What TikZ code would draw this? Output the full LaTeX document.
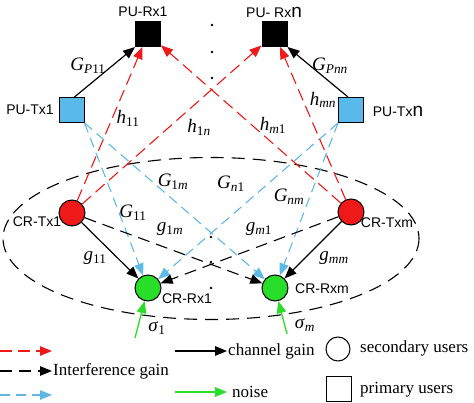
\documentclass[tikz,border=0pt]{standalone}
\usepackage{fontspec}
\setmainfont{Liberation Serif}
\newfontfamily\sansf{Liberation Sans}
\usetikzlibrary{arrows.meta}
\definecolor{myred}{RGB}{240,25,25}
\definecolor{myblue}{RGB}{95,185,230}
\definecolor{mygreen}{RGB}{40,222,40}
\definecolor{sqblue}{RGB}{90,185,235}
\newcommand{\mlab}[2]{\textit{#1}\textsubscript{#2}}
\begin{document}
\begin{tikzpicture}[x=1pt,y=-1pt,
 arrtip/.style={-{Triangle[length=12pt,width=9.5pt]}},
 pusq/.style={draw, line width=1pt, minimum size=25pt, inner sep=0},
 crc/.style={circle, draw, line width=1pt, minimum size=26pt, inner sep=0},
 nlab/.style={font=\sansf\fontsize{14}{14}\selectfont, inner sep=0},
 mlabel/.style={font=\fontsize{19}{19}\selectfont, inner sep=0},
 ltext/.style={font=\fontsize{17}{17}\selectfont, anchor=west, inner sep=0},
 reddash/.style={arrtip, myred, line width=1.1pt, dash pattern=on 12pt off 6pt},
 bluedash/.style={arrtip, myblue, line width=1.1pt, dash pattern=on 10pt off 6pt},
 blackdash/.style={arrtip, black, line width=1.1pt, dash pattern=on 12pt off 7pt},
 solidarr/.style={arrtip, black, line width=1.2pt},
 noisearr/.style={arrtip, mygreen, line width=1.3pt},
 dotmark/.style={fill=black},
]
\useasboundingbox (0,0) rectangle (474,403);

% ellipse
\draw[black, line width=1.1pt, dash pattern=on 13pt off 8pt] (211,238.5) ellipse [x radius=208, y radius=81];

% nodes
\node[pusq, fill=black] (prx1) at (148,34) {};
\node[pusq, fill=black] (prxn) at (274.5,34) {};
\node[pusq, fill=sqblue] (ptx1) at (71.5,110) {};
\node[pusq, fill=sqblue] (ptxn) at (351,110) {};
\node[crc, fill=myred] (ctx1) at (72,213) {};
\node[crc, fill=myred] (ctxm) at (351,212) {};
\node[crc, fill=mygreen] (crx1) at (148,288) {};
\node[crc, fill=mygreen] (crxm) at (275,288) {};

% node labels
\node[nlab] (lprx1) at (143,12) {PU-Rx1};
\node[nlab] (lprxn) at (274,12) {PU- Rx{\fontsize{19}{19}\selectfont n}};
\node[nlab] (lptx1) at (30,110) {PU-Tx1};
\node[nlab] (lptxn) at (398,111) {PU-Tx{\fontsize{19}{19}\selectfont n}};
\node[nlab] (lctx1) at (37,222) {CR-Tx1};
\node[nlab] (lctxm) at (387,223) {CR-Txm};
\node[nlab] (lcrx1) at (187,299) {CR-Rx1};
\node[nlab] (lcrxm) at (322,289) {CR-Rxm};

% dots
\fill[dotmark] (212,25) circle (1.3);
\fill[dotmark] (212,52) circle (1.3);
\fill[dotmark] (212,78) circle (1.3);
\fill[dotmark] (211,237) circle (1.3);
\fill[dotmark] (211,262) circle (1.3);
\fill[dotmark] (211,288) circle (1.3);

% blue interference
\draw[bluedash] (ptx1.south east) -- (crx1);
\draw[bluedash] (ptx1.south east) -- (crxm);
\draw[bluedash] (ptxn.south west) -- (crx1);
\draw[bluedash] (ptxn.south west) -- (crxm);

% red interference
\draw[reddash] (ctx1) -- (prx1);
\draw[reddash] (ctx1) -- (prxn);
\draw[reddash] (ctxm) -- (prx1);
\draw[reddash] (ctxm) -- (prxn);

% secondary links
\draw[blackdash] (ctx1) -- (crxm);
\draw[blackdash] (ctxm) -- (crx1);
\draw[solidarr] (ctx1) -- (crx1);
\draw[solidarr] (ctxm) -- (crxm);

% primary links
\draw[solidarr] ([xshift=3pt]ptx1.north) -- (prx1.south west);
\draw[solidarr] ([xshift=-3pt]ptxn.north) -- (prxn.south east);

% noise
\coordinate (n1) at (135,338);
\coordinate (nm) at (287,334);
\draw[noisearr] (n1) -- (crx1);
\draw[noisearr] (nm) -- (crxm);

% math labels
\node[mlabel] (lgp11) at (88,66) {\mlab{G}{\textit{P}11}};
\node[mlabel] (lgpnn) at (330,66) {\mlab{G}{\textit{Pnn}}};
\node[mlabel] (lh11) at (128,118) {\mlab{h}{11}};
\node[mlabel] (lh1n) at (199,127) {\mlab{h}{1\textit{n}}};
\node[mlabel] (lhm1) at (273,125) {\mlab{h}{\textit{m}1}};
\node[mlabel] (lhmn) at (323,100) {\mlab{h}{\textit{mn}}};
\node[mlabel] (lg1m) at (173,182) {\mlab{G}{1\textit{m}}};
\node[mlabel] (lgn1) at (231,184) {\mlab{G}{\textit{n}1}};
\node[mlabel] (lgnm) at (289,197) {\mlab{G}{\textit{nm}}};
\node[mlabel] (lg11) at (133,213) {\mlab{G}{11}};
\node[mlabel] (lsg1m) at (170,229) {\mlab{g}{1\textit{m}}};
\node[mlabel] (lsgm1) at (259,229) {\mlab{g}{\textit{m}1}};
\node[mlabel] (lsg11) at (95,258) {\mlab{g}{11}};
\node[mlabel] (lsgmm) at (334,258) {\mlab{g}{\textit{mm}}};
\node[mlabel] (ls1) at (157,328) {\mlab{σ}{1}};
\node[mlabel] (lsm) at (305,325) {\mlab{σ}{\textit{m}}};

% legend
\coordinate (a1) at (0,351); \coordinate (b1) at (52,351);
\coordinate (a2) at (0,371); \coordinate (b2) at (52,371);
\coordinate (a3) at (0,395); \coordinate (b3) at (52,395);
\coordinate (a4) at (175,351); \coordinate (b4) at (227,351);
\coordinate (a5) at (175,392); \coordinate (b5) at (227,392);
\draw[reddash] (a1) -- (b1);
\draw[blackdash] (a2) -- (b2);
\draw[bluedash] (a3) -- (b3);
\draw[solidarr] (a4) -- (b4);
\draw[noisearr] (a5) -- (b5);
\node[ltext] (tint) at (53,371) {Interference gain};
\node[ltext] (tch) at (228,351) {channel gain};
\node[ltext] (tno) at (232,392) {noise};
\node[crc, minimum size=24pt] (lc) at (338,349) {};
\node[pusq] (ls) at (339,389) {};
\node[ltext] (tsec) at (360,348) {secondary users};
\node[ltext] (tpri) at (360,390) {primary users};
\end{tikzpicture}
\end{document}
